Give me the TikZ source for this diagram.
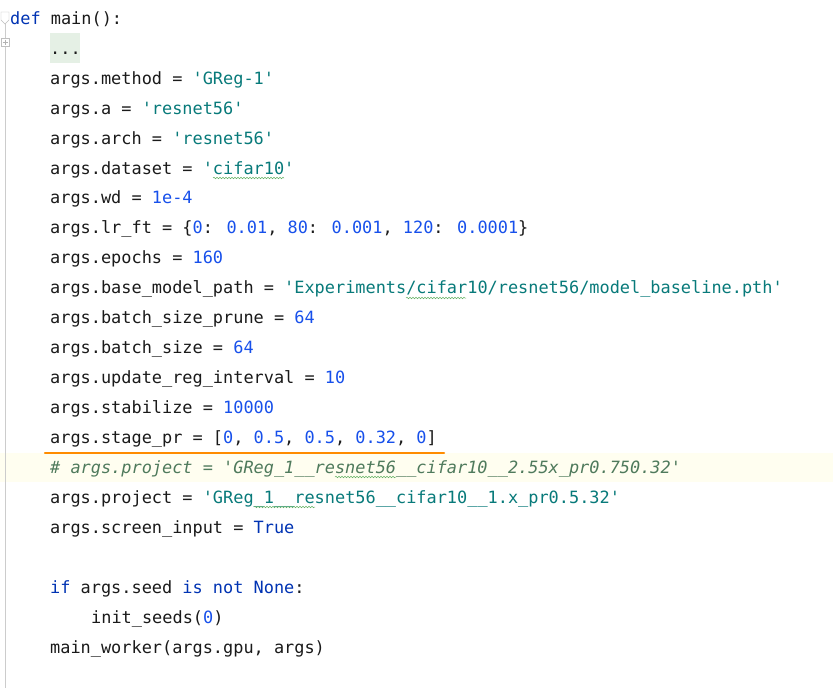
\documentclass[tikz,border=0pt]{standalone}
\usepackage{fontspec}
\newfontfamily\code{DejaVu Sans Mono}
\usetikzlibrary{decorations.pathmorphing}
\definecolor{kw}{HTML}{0033B3}
\definecolor{str}{HTML}{087A7A}
\definecolor{num}{HTML}{1750EB}
\definecolor{cmt}{HTML}{4F7A5C}
\definecolor{txt}{HTML}{1A1A1A}
\newcommand{\K}[1]{\textcolor{kw}{#1}}
\newcommand{\Sg}[1]{\textcolor{str}{#1}}
\newcommand{\N}[1]{\textcolor{num}{#1}}
\tikzset{codeline/.style={anchor=base west,inner sep=0pt,text=txt,font=\code\fontsize{16.9}{20}\selectfont},
 wavy/.style={draw=green!50!black!60,line width=0.5pt,decorate,decoration={snake,amplitude=0.8pt,segment length=3pt}}}
\begin{document}
\begin{tikzpicture}[x=1pt,y=-1pt]
\useasboundingbox (0,0) rectangle (833,688);
\fill[white] (0,0) rectangle (833,688);
\fill[yellow!6] (0,453) rectangle (833,482);
\fill[green!40!black!10] (50,33) rectangle (80,63);
\draw[gray!40] (5,20) -- (5,688);
\draw[gray!50,fill=white] (1,12) -- (9,12) -- (9,20) -- (5,24) -- (1,20) -- cycle;
\draw[gray!50,fill=white] (1,38) rectangle (9,46);
\draw[gray!60] (2.5,42) -- (7.5,42) (5,39.5) -- (5,44.5);
\node[codeline] (l0) at (10,24) {\K{def} main():};
\node[codeline] (l1) at (50,54) {...};
\node[codeline] (l2) at (50,84) {args.method = \Sg{'GReg-1'}};
\node[codeline] (l3) at (50,114) {args.a = \Sg{'resnet56'}};
\node[codeline] (l4) at (50,144) {args.arch = \Sg{'resnet56'}};
\node[codeline] (l5) at (50,174) {args.dataset = \Sg{'cifar10'}};
\node[codeline] (l6) at (50,203) {args.wd = \N{1e-4}};
\node[codeline] (l7) at (50,233) {args.lr\_ft = \{\N{0}: \N{0.01}, \N{80}: \N{0.001}, \N{120}: \N{0.0001}\}};
\node[codeline] (l8) at (50,263) {args.epochs = \N{160}};
\node[codeline] (l9) at (50,293) {args.base\_model\_path = \Sg{'Experiments/cifar10/resnet56/model\_baseline.pth'}};
\node[codeline] (l10) at (50,323) {args.batch\_size\_prune = \N{64}};
\node[codeline] (l11) at (50,353) {args.batch\_size = \N{64}};
\node[codeline] (l12) at (50,383) {args.update\_reg\_interval = \N{10}};
\node[codeline] (l13) at (50,413) {args.stabilize = \N{10000}};
\node[codeline] (l14) at (50,443) {args.stage\_pr = [\N{0}, \N{0.5}, \N{0.5}, \N{0.32}, \N{0}]};
\node[codeline,text=cmt] (l15) at (50,473) {\itshape \# args.project = 'GReg\_1\_\_resnet56\_\_cifar10\_\_2.55x\_pr0.750.32'};
\node[codeline] (l16) at (50,503) {args.project = \Sg{'GReg\_1\_\_resnet56\_\_cifar10\_\_1.x\_pr0.5.32'}};
\node[codeline] (l17) at (50,533) {args.screen\_input = \K{True}};
\node[codeline] (l19) at (50,593) {\K{if} args.seed \K{is not None}:};
\node[codeline] (l20) at (91,623) {init\_seeds(\N{0})};
\node[codeline] (l21) at (50,653) {main\_worker(args.gpu, args)};
\draw[orange!90!yellow,line width=2.5pt,line cap=round] (45,453) -- (444,453);
\draw[wavy] (213,178) -- (284,178);
\draw[wavy] (406,298) -- (466,298);
\draw[wavy] (335,477) -- (396,477);
\draw[wavy] (254,507) -- (315,507);
\end{tikzpicture}
\end{document}
